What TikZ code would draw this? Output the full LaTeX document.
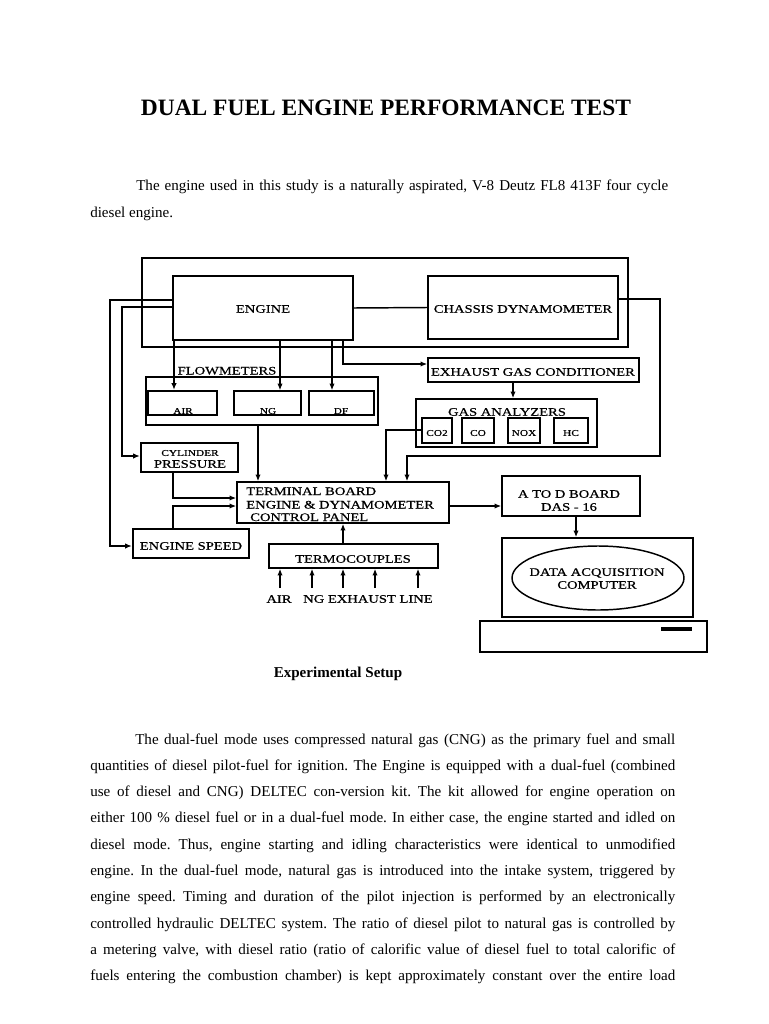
\documentclass[tikz,border=0pt]{standalone}
\usepackage{fontspec}
\setmainfont{Liberation Serif}
\newfontfamily\diagfont[FakeStretch=1.27,FakeBold=0.6]{Liberation Serif}
\usetikzlibrary{arrows.meta,fit,shapes.geometric}
\tikzset{
  box/.style={draw, line width=1.1pt, inner sep=0pt},
  tbox/.style={box, line width=1.7pt},
  txt/.style={inner sep=0pt, font=\diagfont\fontsize{8.6}{9.8}\selectfont},
  stxt/.style={inner sep=0pt, font=\diagfont\fontsize{6.7}{8}\selectfont},
  conn/.style={line width=1.1pt},
  arr/.style={conn, -{Latex[length=5pt,width=4pt]}},
  body/.style={inner sep=0pt, anchor=base west, font=\fontsize{11.3}{13}\selectfont},
}
\newcommand{\jline}[2]{\makebox[#1][s]{#2}}
\frenchspacing
\begin{document}
\begin{tikzpicture}[x=0.75pt,y=-0.75pt]
\fill[white] (0,0) rectangle (768,1024);
\useasboundingbox (0,0) rectangle (768,1024);

% ---------- page text ----------
\node[inner sep=0pt, anchor=base, font=\fontsize{17.6}{20}\selectfont\bfseries] (title) at (386,115) {DUAL FUEL ENGINE PERFORMANCE TEST};
\node[body] (p1a) at (136,190) {\jline{399pt}{The engine used in this study is a naturally aspirated, V-8 Deutz FL8 413F four cycle}};
\node[body] (p1b) at (90,217) {diesel engine.};

\node[inner sep=0pt, anchor=base, font=\fontsize{11.3}{13}\selectfont\bfseries] (caption) at (338,677) {Experimental Setup};

\node[body] (l1) at (135,744) {\jline{405pt}{The dual-fuel mode uses compressed natural gas (CNG) as the primary fuel and small}};
\node[body] (l2) at (90,770.3) {\jline{438.75pt}{quantities of diesel pilot-fuel for ignition. The Engine is equipped with a dual-fuel (combined}};
\node[body] (l3) at (90,796.6) {\jline{438.75pt}{use of diesel and CNG) DELTEC con-version kit. The kit allowed for engine operation on}};
\node[body] (l4) at (90,822.9) {\jline{438.75pt}{either 100 \% diesel fuel or in a dual-fuel mode. In either case, the engine started and idled on}};
\node[body] (l5) at (90,849.2) {\jline{438.75pt}{diesel mode. Thus, engine starting and idling characteristics were identical to unmodified}};
\node[body] (l6) at (90,875.5) {\jline{438.75pt}{engine. In the dual-fuel mode, natural gas is introduced into the intake system, triggered by}};
\node[body] (l7) at (90,901.8) {\jline{438.75pt}{engine speed. Timing and duration of the pilot injection is performed by an electronically}};
\node[body] (l8) at (90,928.1) {\jline{438.75pt}{controlled hydraulic DELTEC system. The ratio of diesel pilot to natural gas is controlled by}};
\node[body] (l9) at (90,954.4) {\jline{438.75pt}{a metering valve, with diesel ratio (ratio of calorific value of diesel fuel to total calorific of}};
\node[body] (l10) at (90,980.7) {\jline{438.75pt}{fuels entering the combustion chamber) is kept approximately constant over the entire load}};

% ---------- diagram boxes ----------
\node[draw, line width=0.9pt, inner sep=0pt, fit={(142,258)(628,347)}] (outer) {};
\node[box, fill=white, fit={(173,276)(353,340)}] (engine) {};
\node[txt] (enginet) at (263,309) {ENGINE};
\node[box, fill=white, fit={(428,276)(618,339)}] (chassis) {};
\node[txt] (chassist) at (523,309) {CHASSIS DYNAMOMETER};
\node[box, fit={(428,358)(639,382)}] (egc) {};
\node[txt] (egct) at (533,372) {EXHAUST GAS CONDITIONER};

\node[box, fit={(416,399)(597,447)}] (gas) {};
\node[txt] (gaslbl) at (507,412) {GAS ANALYZERS};
\node[box, fit={(422,418)(452,443)}] (co2) {};
\node[stxt] (co2t) at (437,433) {CO2};
\node[tbox, fit={(462,418)(494,443)}] (co) {};
\node[stxt] (cot) at (478,433) {CO};
\node[tbox, fit={(508,418)(540,443)}] (nox) {};
\node[stxt] (noxt) at (524,433) {NOX};
\node[box, fit={(554,418)(588,443)}] (hc) {};
\node[stxt] (hct) at (571,433) {HC};

\node[box, fit={(146,377)(378,425)}] (flow) {};
\node[txt, anchor=base] (flowlbl) at (227,374.5) {FLOWMETERS};
\node[tbox, fit={(148,391)(217,415)}] (air) {};
\node[stxt] (airt) at (183,411) {AIR};
\node[box, fit={(234,391)(301,415)}] (ng) {};
\node[stxt] (ngt) at (268,411) {NG};
\node[box, fit={(309,391)(374,415)}] (df) {};
\node[stxt] (dft) at (341,411) {DF};

\node[tbox, fit={(141,443)(238,472)}] (cyl) {};
\node[stxt] (cylt1) at (190,453) {CYLINDER};
\node[txt] (cylt2) at (190,464) {PRESSURE};

\node[tbox, fit={(133,529)(249,558)}] (speed) {};
\node[txt] (speedt) at (191,546) {ENGINE SPEED};

\node[box, fit={(237,482)(449,523)}] (tb) {};
\node[txt, anchor=base west] (tb1) at (246,495) {TERMINAL BOARD};
\node[txt, anchor=base west] (tb2) at (246,508.5) {ENGINE \& DYNAMOMETER};
\node[txt, anchor=base west] (tb3) at (250,521) {CONTROL PANEL};

\node[box, fit={(269,544)(438,568)}] (thermo) {};
\node[txt] (thermot) at (353,559) {TERMOCOUPLES};
\node[txt] (tair) at (279,599) {AIR};
\node[txt] (tother) at (368,599) {NG EXHAUST LINE};

\node[box, fit={(502,476)(640,516)}] (atod) {};
\node[txt] (atodt1) at (569,494) {A TO D BOARD};
\node[txt] (atodt2) at (569,507) {DAS - 16};
\node[box, fit={(502,538)(693,617)}] (comp) {};
\node[draw, ellipse, line width=1.1pt, inner sep=0pt, minimum width=129pt, minimum height=48pt] (dac) at (598,578) {};
\node[txt] (dact1) at (597,573) {DATA ACQUISITION};
\node[txt] (dact2) at (597,585) {COMPUTER};
\node[box, fit={(480,621)(707,652)}] (base) {};
\node[fill=black, inner sep=0pt, fit={(661,627)(692,631)}] (bar) {};

% ---------- helper coordinates ----------
\coordinate (xA) at (174,0);
\coordinate (xN) at (280,0);
\coordinate (xD) at (332,0);
\coordinate (xE) at (343,0);
\coordinate (yE) at (0,364);
\coordinate (xG) at (513,0);
\coordinate (cc1) at (660,299);
\coordinate (cc2) at (660,456);
\coordinate (cc3) at (407,456);
\coordinate (ga1) at (386,430);
\coordinate (el1) at (110,300);
\coordinate (el2) at (110,546);
\coordinate (el3) at (122,307);
\coordinate (el4) at (122,456);
\coordinate (xF) at (258,0);
\coordinate (cp1) at (173,498);
\coordinate (es1) at (173,506);
\coordinate (yT) at (0,506);
\coordinate (xT) at (343,0);
\coordinate (xC) at (576,0);
\coordinate (s1) at (280,588);
\coordinate (s2) at (312,588);
\coordinate (s3) at (343,588);
\coordinate (s4) at (375,588);
\coordinate (s5) at (418,588);

% ---------- connectors ----------
\draw[conn] (engine.east) -- (chassis.west);
\draw[arr] (chassis.east |- cc1) -- (cc1) -- (cc2) -- (cc3) -- (tb.north -| cc3);
\draw[arr] (engine.south -| xA) -- (air.north -| xA);
\draw[arr, line width=0.9pt] (engine.south -| xN) -- (ng.north -| xN);
\draw[arr, line width=0.9pt] (engine.south -| xD) -- (df.north -| xD);
\draw[arr, line width=1.5pt] (engine.south -| xE) -- (xE |- yE) -- (egc.west |- yE);
\draw[arr] (egc.south -| xG) -- (gas.north -| xG);
\draw[arr] (co2.west |- ga1) -- (ga1) -- (tb.north -| ga1);
\draw[arr] (engine.west |- el1) -- (el1) -- (el2) -- (speed.west |- el2);
\draw[arr] (engine.west |- el3) -- (el3) -- (el4) -- (cyl.west |- el4);
\draw[arr] (flow.south -| xF) -- (tb.north -| xF);
\draw[arr] (cyl.south -| cp1) -- (cp1) -- (tb.west |- cp1);
\draw[arr] (speed.north -| es1) -- (es1) -- (tb.west |- es1);
\draw[arr] (thermo.north -| xT) -- (tb.south -| xT);
\draw[arr] (tb.east |- yT) -- (atod.west |- yT);
\draw[arr] (atod.south -| xC) -- (comp.north -| xC);
\foreach \s in {s1,s2,s3,s4,s5} \draw[arr] (\s) -- (thermo.south -| \s);
\end{tikzpicture}
\end{document}
